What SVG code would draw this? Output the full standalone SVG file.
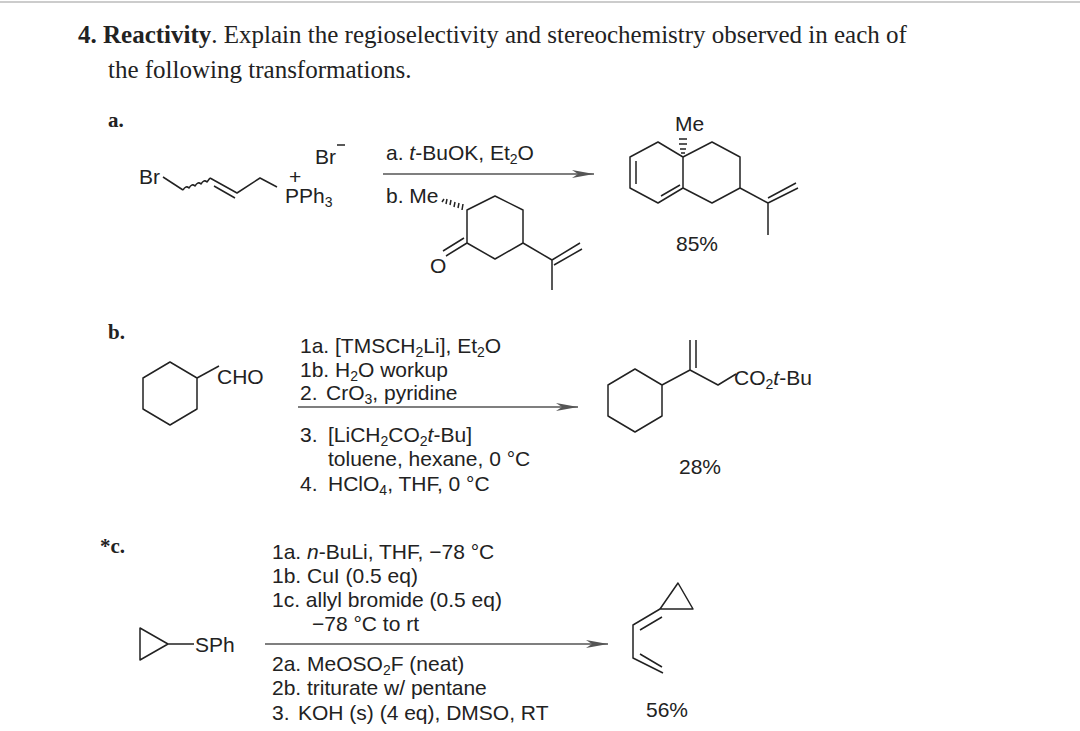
<svg xmlns="http://www.w3.org/2000/svg" width="1080" height="731" viewBox="0 0 1080 731">
<defs>
<style>
.t{font-family:"Liberation Sans",Arial,sans-serif;font-size:21px;fill:#222}
.s{font-size:14px}
.h{font-family:"Liberation Serif","Times New Roman",serif;font-size:25px;fill:#222}
.l{font-family:"Liberation Serif","Times New Roman",serif;font-size:21px;font-weight:bold;fill:#222}
.b{stroke:#222;stroke-width:1.5;fill:none;stroke-linejoin:round}
.ar{stroke:#555;stroke-width:1.5;fill:none}
</style>
<marker id="ah" markerWidth="24" markerHeight="10" refX="22" refY="5" orient="auto" markerUnits="userSpaceOnUse"><path d="M0,1 L22,5 L0,9 L6,5Z" fill="#555"/></marker>
</defs>
<rect width="1080" height="731" fill="#fff"/>
<line x1="0" y1="2" x2="1080" y2="2" stroke="#999" stroke-width="1"/>
<text class="h" x="78" y="43"><tspan font-weight="bold">4. Reactivity</tspan>. Explain the regioselectivity and stereochemistry observed in each of</text>
<text class="h" x="108" y="78">the following transformations.</text>
<text class="l" x="108" y="127">a.</text>
<text class="l" x="108" y="339">b.</text>
<text class="l" x="100" y="553">*c.</text>

<!-- a reactant -->
<text class="t" x="139" y="184">Br</text>
<path class="b" d="M163,177 L183,190"/>
<path class="b" d="M183,190 q3,-5 6,-2 q3,-5 6,-2 q3,-5 6,-2 q3,-5 6,-2 l3,-4"/>
<path class="b" d="M210,178 L237,193 L260,178 L277,187"/>
<path class="b" d="M214,186 L235,198"/>
<text class="t" x="285" y="203">PPh<tspan class="s" dy="4">3</tspan></text>
<text class="t" x="289" y="184" font-size="15">+</text>
<text class="t" x="315" y="164">Br</text>
<line class="b" x1="337" y1="145" x2="345" y2="145"/>

<!-- arrow a -->
<line class="ar" x1="383" y1="174" x2="594" y2="174" marker-end="url(#ah)"/>
<text class="t" x="386" y="160">a. <tspan font-style="italic">t</tspan>-BuOK, Et<tspan class="s" dy="4">2</tspan><tspan dy="-4">O</tspan></text>
<text class="t" x="386" y="203">b. Me</text>
<path class="b" d="M442,202 L444,199 M446,204 L447,199 M450,205 L451,200 M454,207 L455,202 M458,208 L459,203 M462,210 L463,204"/>
<path class="b" d="M467,210 L495,196 L523,210 L523,243 L495,259 L467,243 Z"/>
<path class="b" d="M467,243 L446,256 M464,238 L443,251"/>
<text class="t" x="430" y="273">O</text>
<path class="b" d="M523,243 L552,260" stroke-width="3"/>
<path class="b" d="M552,260 L580,243 M554,265 L582,249 M552,260 L552,290"/>

<!-- a product -->
<text class="t" x="675" y="131">Me</text>
<path class="b" d="M683,157 L658,142 L630,157 L630,188 L658,203 L683,188 Z"/>
<path class="b" d="M683,157 L712,142 L740,157 L740,188 L712,203 L683,188"/>
<path class="b" d="M636,161 L636,184 M661,196 L680,185"/>
<path class="b" d="M679,139 L687,139 M679,144 L687,144 M680,149 L686,149 M681,153 L685,153"/>
<path class="b" d="M740,188 L768,203" stroke-width="3"/>
<path class="b" d="M768,203 L798,188 M768,198 L796,183 M768,203 L768,235"/>
<text class="t" x="676" y="251">85%</text>

<!-- b reactant -->
<path class="b" d="M170,362 L197,378 L197,409 L170,425 L143,409 L143,378 Z"/>
<path class="b" d="M197,378 L219,366"/>
<text class="t" x="217" y="384">CHO</text>

<!-- arrow b -->
<line class="ar" x1="298" y1="407" x2="578" y2="407" marker-end="url(#ah)"/>
<text class="t" x="300" y="353">1a. [TMSCH<tspan class="s" dy="4">2</tspan><tspan dy="-4">Li], Et</tspan><tspan class="s" dy="4">2</tspan><tspan dy="-4">O</tspan></text>
<text class="t" x="300" y="377">1b. H<tspan class="s" dy="4">2</tspan><tspan dy="-4">O workup</tspan></text>
<text class="t" x="300" y="400">2.<tspan x="326">CrO</tspan><tspan class="s" dy="4">3</tspan><tspan dy="-4">, pyridine</tspan></text>
<text class="t" x="300" y="442">3.<tspan x="328">[LiCH</tspan><tspan class="s" dy="4">2</tspan><tspan dy="-4">CO</tspan><tspan class="s" dy="4">2</tspan><tspan dy="-4" font-style="italic">t</tspan>-Bu]</text>
<text class="t" x="328" y="466">toluene, hexane, 0 °C</text>
<text class="t" x="300" y="491">4.<tspan x="328">HClO</tspan><tspan class="s" dy="4">4</tspan><tspan dy="-4">, THF, 0 °C</tspan></text>

<!-- b product -->
<path class="b" d="M635,369 L662,385 L662,416 L635,432 L608,416 L608,385 Z"/>
<path class="b" d="M662,385 L690,370 L718,385 L736,374 M690,370 L690,340 M696,368 L696,340"/>
<text class="t" x="734" y="385">CO<tspan class="s" dy="4">2</tspan><tspan dy="-4" font-style="italic">t</tspan>-Bu</text>
<text class="t" x="679" y="474">28%</text>

<!-- c reactant -->
<path class="b" d="M140,628 L140,660 L168,644 Z M168,644 L194,644"/>
<text class="t" x="195" y="652">SPh</text>

<!-- arrow c -->
<line class="ar" x1="265" y1="644" x2="608" y2="644" marker-end="url(#ah)"/>
<text class="t" x="272" y="559">1a. <tspan font-style="italic">n</tspan>-BuLi, THF, −78 °C</text>
<text class="t" x="272" y="583">1b. CuI (0.5 eq)</text>
<text class="t" x="272" y="607">1c. allyl bromide (0.5 eq)</text>
<text class="t" x="312" y="631">−78 °C to rt</text>
<text class="t" x="272" y="671">2a. MeOSO<tspan class="s" dy="4">2</tspan><tspan dy="-4">F (neat)</tspan></text>
<text class="t" x="272" y="695">2b. triturate w/ pentane</text>
<text class="t" x="272" y="720">3.<tspan x="298">KOH (s) (4 eq), DMSO, RT</tspan></text>

<!-- c product -->
<path class="b" d="M678,583 L660,609 L693,609 Z"/>
<path class="b" d="M660,609 L633,625 L633,658 L663,673 M640,630 L662,617 M640,654 L662,667"/>
<text class="t" x="646" y="717">56%</text>
</svg>
